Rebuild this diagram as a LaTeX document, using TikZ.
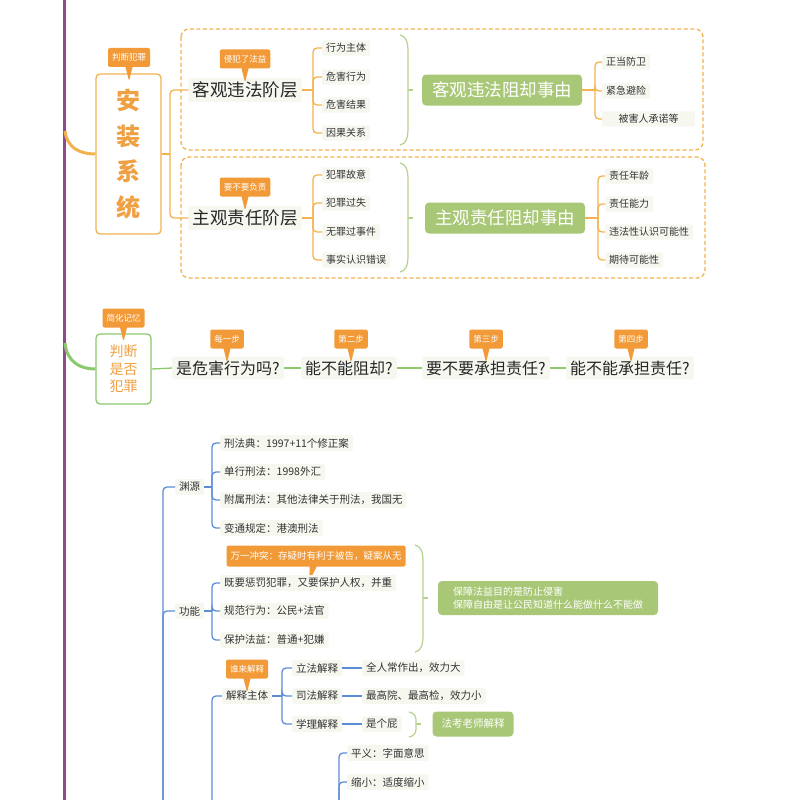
\documentclass[tikz,border=0pt]{standalone}
\usepackage{fontspec}
\newfontfamily\cjk{Noto Sans CJK SC}
\usetikzlibrary{shapes.callouts}
\definecolor{zipurple}{HTML}{8C4B8E}
\definecolor{lineorange}{HTML}{F2B34F}
\definecolor{tagorange}{HTML}{F29A38}
\definecolor{textorange}{HTML}{EFA043}
\definecolor{boxgreen}{HTML}{A9C877}
\definecolor{linegreen}{HTML}{8CC86C}
\definecolor{bracegreen}{HTML}{B8D18F}
\definecolor{lineblue}{HTML}{5C8ED4}
\definecolor{leafbg}{HTML}{F6F8F0}
\tikzset{
  tag/.style={rectangle callout, fill=tagorange, text=white, rounded corners=2pt,
    font=\cjk\fontsize{8.5}{10}\selectfont, minimum height=19pt, inner xsep=4pt,
    callout relative pointer={(0pt,-14pt)}, callout pointer width=7pt},
  leaf/.style={anchor=west, fill=leafbg, rounded corners=2pt, inner xsep=4pt, inner ysep=3pt,
    text=black!80, font=\cjk\fontsize{10}{12}\selectfont},
  bleaf/.style={leaf, font=\cjk\fontsize{10.5}{12}\selectfont},
  stage/.style={fill=leafbg, rounded corners=2pt, inner sep=4pt, text=black!85,
    font=\cjk\fontsize{17.5}{20}\selectfont},
  qnode/.style={fill=leafbg, rounded corners=2pt, inner sep=4pt, text=black!85,
    font=\cjk\fontsize{16}{18}\selectfont},
  gbox/.style={fill=boxgreen, text=white, rounded corners=4pt, minimum height=31pt,
    inner xsep=10pt, font=\cjk\fontsize{17.5}{20}\selectfont},
  obranch/.style={draw=lineorange, line width=1.3pt, rounded corners=4pt},
  gline/.style={draw=linegreen, line width=1.3pt},
  bbranch/.style={draw=lineblue, line width=1.3pt, rounded corners=4pt},
  gbrace/.style={draw=bracegreen, line width=1.2pt},
  dashframe/.style={draw=lineorange, dash pattern=on 4pt off 2.5pt, line width=1.3pt, rounded corners=8pt}
}

\begin{document}
\begin{tikzpicture}[x=1pt,y=-1pt]
  \useasboundingbox (0,0) rectangle (800,800);
  \fill[white] (0,0) rectangle (800,800);
  \draw[zipurple, line width=3.5pt] (64.5,0) -- (64.5,800);

  \draw[dashframe] (181,29) rectangle (703,150);
  \draw[dashframe] (181,157) rectangle (705,278);

  \node[draw=lineorange, line width=1.3pt, fill=white, rounded corners=4pt, minimum width=65pt,
    minimum height=160pt, align=center, text=textorange,
    font=\cjk\bfseries\fontsize{24}{35.5}\selectfont] (azxt) at (128.5,154) {安\\装\\系\\统};
  \node[tag] (pdfz) at (129,57.5) {判断犯罪};
  \coordinate (pt1) at (65,131);
  \draw[lineorange, line width=3pt] (pt1) .. controls (67,148) and (80,154) .. (azxt.west);

  \node[stage] (kgwf) at (245,90) {客观违法阶层};
  \node[tag] (qfly) at (245,59) {侵犯了法益};
  \node[stage] (zgzr) at (245,218) {主观责任阶层};
  \node[tag] (ybyf) at (245,187) {要不要负责};
  \coordinate (azs) at (170,154);
  \draw[obranch] (azxt.east) -- (azs);
  \draw[obranch] (azs) |- (kgwf.west);
  \draw[obranch] (azs) |- (zgzr.west);

  \node[leaf] (xwzt) at (322,48) {行为主体};
  \node[leaf] (whxw) at (322,77) {危害行为};
  \node[leaf] (whjg) at (322,105) {危害结果};
  \node[leaf] (ygxg) at (322,133) {因果关系};
  \coordinate (kgs) at (313,90);
  \draw[obranch] (kgwf.east) -- (kgs);
  \draw[obranch] (kgs) |- (xwzt.west);
  \draw[obranch] (kgs) |- (whxw.west);
  \draw[obranch] (kgs) |- (whjg.west);
  \draw[obranch] (kgs) |- (ygxg.west);

  \draw[gbrace] (400,35) .. controls (406,36) and (408,42) .. (408,52) -- (408,128)
    .. controls (408,138) and (406,144) .. (400,145);
  \coordinate (kgb) at (408,90);
  \draw[gbrace] (kgb) -- ++(5,0);
  \node[gbox] (kgzq) at (502,90) {客观违法阻却事由};
  \node[leaf] (zdfw) at (602,62) {正当防卫};
  \node[leaf] (jjbx) at (602,91) {紧急避险};
  \node[leaf, minimum width=93pt] (bhrc) at (602,119) {被害人承诺等};
  \coordinate (kqs) at (595,90);
  \draw[obranch] (kgzq.east) -- (kqs);
  \draw[obranch] (kqs) |- (zdfw.west);
  \draw[obranch] (kqs) |- (jjbx.west);
  \draw[obranch] (kqs) |- (bhrc.west);

  \node[leaf] (fzgy) at (322,175) {犯罪故意};
  \node[leaf] (fzgs) at (322,203) {犯罪过失};
  \node[leaf] (wzgs) at (322,232) {无罪过事件};
  \node[leaf] (sscw) at (322,260) {事实认识错误};
  \coordinate (zgs) at (313,218);
  \draw[obranch] (zgzr.east) -- (zgs);
  \draw[obranch] (zgs) |- (fzgy.west);
  \draw[obranch] (zgs) |- (fzgs.west);
  \draw[obranch] (zgs) |- (wzgs.west);
  \draw[obranch] (zgs) |- (sscw.west);

  \draw[gbrace] (400,163) .. controls (406,164) and (408,170) .. (408,180) -- (408,255)
    .. controls (408,265) and (406,271) .. (400,272);
  \coordinate (zgb) at (408,218);
  \draw[gbrace] (zgb) -- ++(5,0);
  \node[gbox] (zgzq) at (505,218) {主观责任阻却事由};
  \node[leaf] (zrnl) at (605,176) {责任年龄};
  \node[leaf] (zrnn) at (605,204) {责任能力};
  \node[leaf] (wfxr) at (605,232) {违法性认识可能性};
  \node[leaf] (qdkn) at (605,260) {期待可能性};
  \coordinate (zqs) at (598,218);
  \draw[obranch] (zgzq.east) -- (zqs);
  \draw[obranch] (zqs) |- (zrnl.west);
  \draw[obranch] (zqs) |- (zrnn.west);
  \draw[obranch] (zqs) |- (wfxr.west);
  \draw[obranch] (zqs) |- (qdkn.west);

  \node[draw=linegreen, line width=1.3pt, fill=white, rounded corners=4pt, minimum width=55pt,
    minimum height=70pt, align=center, text=textorange,
    font=\cjk\fontsize{14}{17.5}\selectfont] (pdsf) at (123.5,369) {判断\\是否\\犯罪};
  \node[tag] (jhjy) at (123.5,318) {简化记忆};
  \coordinate (pt2) at (65,343);
  \draw[linegreen, line width=3pt] (pt2) .. controls (67,362) and (80,369) .. (pdsf.west);

  \node[qnode] (whxwm) at (228,368) {是危害行为吗?};
  \node[qnode] (bnzq) at (349,368) {能不能阻却?};
  \node[qnode] (ybycd) at (486,368) {要不要承担责任?};
  \node[qnode] (bncd) at (630,368) {能不能承担责任?};
  \node[tag] (myb) at (227,339) {每一步};
  \node[tag] (dieb) at (351,339) {第二步};
  \node[tag] (dsb) at (486,339) {第三步};
  \node[tag] (dsib) at (631,339) {第四步};
  \draw[gline] (pdsf.east) -- (whxwm.west);
  \draw[gline] (whxwm.east) -- (bnzq.west);
  \draw[gline] (bnzq.east) -- (ybycd.west);
  \draw[gline] (ybycd.east) -- (bncd.west);

  \coordinate (xs) at (163,800);
  \node[bleaf] (yy) at (175,487) {渊源};
  \node[bleaf] (gn) at (175,611) {功能};
  \draw[bbranch] (xs) |- (yy.west);
  \draw[bbranch] (xs) |- (gn.west);

  \node[bleaf] (xfd) at (220,443) {刑法典：1997+11个修正案};
  \node[bleaf] (dxxf) at (220,472) {单行刑法：1998外汇};
  \node[bleaf] (fsxf) at (220,500) {附属刑法：其他法律关于刑法，我国无};
  \node[bleaf] (btgd) at (220,528) {变通规定：港澳刑法};
  \coordinate (yys) at (212,487);
  \draw[bbranch] (yy.east) -- (yys);
  \draw[bbranch] (yys) |- (xfd.west);
  \draw[bbranch] (yys) |- (dxxf.west);
  \draw[bbranch] (yys) |- (fsxf.west);
  \draw[bbranch] (yys) |- (btgd.west);

  \node[tag, font=\cjk\fontsize{9.5}{11}\selectfont, minimum height=21pt,
    callout relative pointer={(-4pt,-15pt)}] (wycl) at (316,556) {万一冲突：存疑时有利于被告，疑案从无};
  \node[bleaf] (jycf) at (220,583) {既要惩罚犯罪，又要保护人权，并重};
  \node[bleaf] (gfxw) at (220,611) {规范行为：公民+法官};
  \node[bleaf] (bhfy) at (220,640) {保护法益：普通+犯嫌};
  \coordinate (gns) at (212,611);
  \draw[bbranch] (gn.east) -- (gns);
  \draw[bbranch] (gns) |- (jycf.west);
  \draw[bbranch] (gns) |- (gfxw.west);
  \draw[bbranch] (gns) |- (bhfy.west);

  \draw[gbrace] (415,545) .. controls (421,546) and (423,552) .. (423,562) -- (423,635)
    .. controls (423,645) and (421,651) .. (415,652);
  \coordinate (gnb) at (423,598);
  \draw[gbrace] (gnb) -- ++(5,0);
  \node[fill=boxgreen, text=white, rounded corners=4pt, minimum width=220pt, minimum height=34pt,
    inner xsep=10pt, align=left, font=\cjk\fontsize{10}{13}\selectfont] (bzfy) at (548,598)
    {保障法益目的是防止侵害\\保障自由是让公民知道什么能做什么不能做};

  \coordinate (js) at (212,800);
  \node[bleaf] (jszt) at (222,696) {解释主体};
  \node[tag] (sljs) at (247,669) {谁来解释};
  \draw[bbranch] (js) |- (jszt.west);
  \node[bleaf] (lfjs) at (292,668) {立法解释};
  \node[bleaf] (sfjs) at (292,696) {司法解释};
  \node[bleaf] (xljs) at (292,724) {学理解释};
  \coordinate (jzs) at (282,696);
  \draw[bbranch] (jszt.east) -- (jzs);
  \draw[bbranch] (jzs) |- (lfjs.west);
  \draw[bbranch] (jzs) |- (sfjs.west);
  \draw[bbranch] (jzs) |- (xljs.west);
  \node[bleaf] (qrc) at (362,668) {全人常作出，效力大};
  \node[bleaf] (zgy) at (362,696) {最高院、最高检，效力小};
  \node[bleaf] (sgp) at (362,724) {是个屁};
  \draw[bbranch] (lfjs.east) -- (qrc.west);
  \draw[bbranch] (sfjs.east) -- (zgy.west);
  \draw[bbranch] (xljs.east) -- (sgp.west);

  \draw[gbrace] (409,712) .. controls (414,713) and (416,716) .. (416,720) -- (416,729)
    .. controls (416,733) and (414,736) .. (409,737);
  \coordinate (xlb) at (416,724);
  \draw[gbrace] (xlb) -- ++(5,0);
  \node[gbox, minimum height=25pt, inner xsep=9pt, font=\cjk\fontsize{10.5}{12}\selectfont]
    (fkls) at (473,724) {法考老师解释};

  \coordinate (jf) at (339,800);
  \node[bleaf] (py) at (347,753) {平义：字面意思};
  \node[bleaf] (sx) at (347,782) {缩小：适度缩小};
  \draw[bbranch] (jf) |- (py.west);
  \draw[bbranch] (jf) |- (sx.west);
\end{tikzpicture}
\end{document}
